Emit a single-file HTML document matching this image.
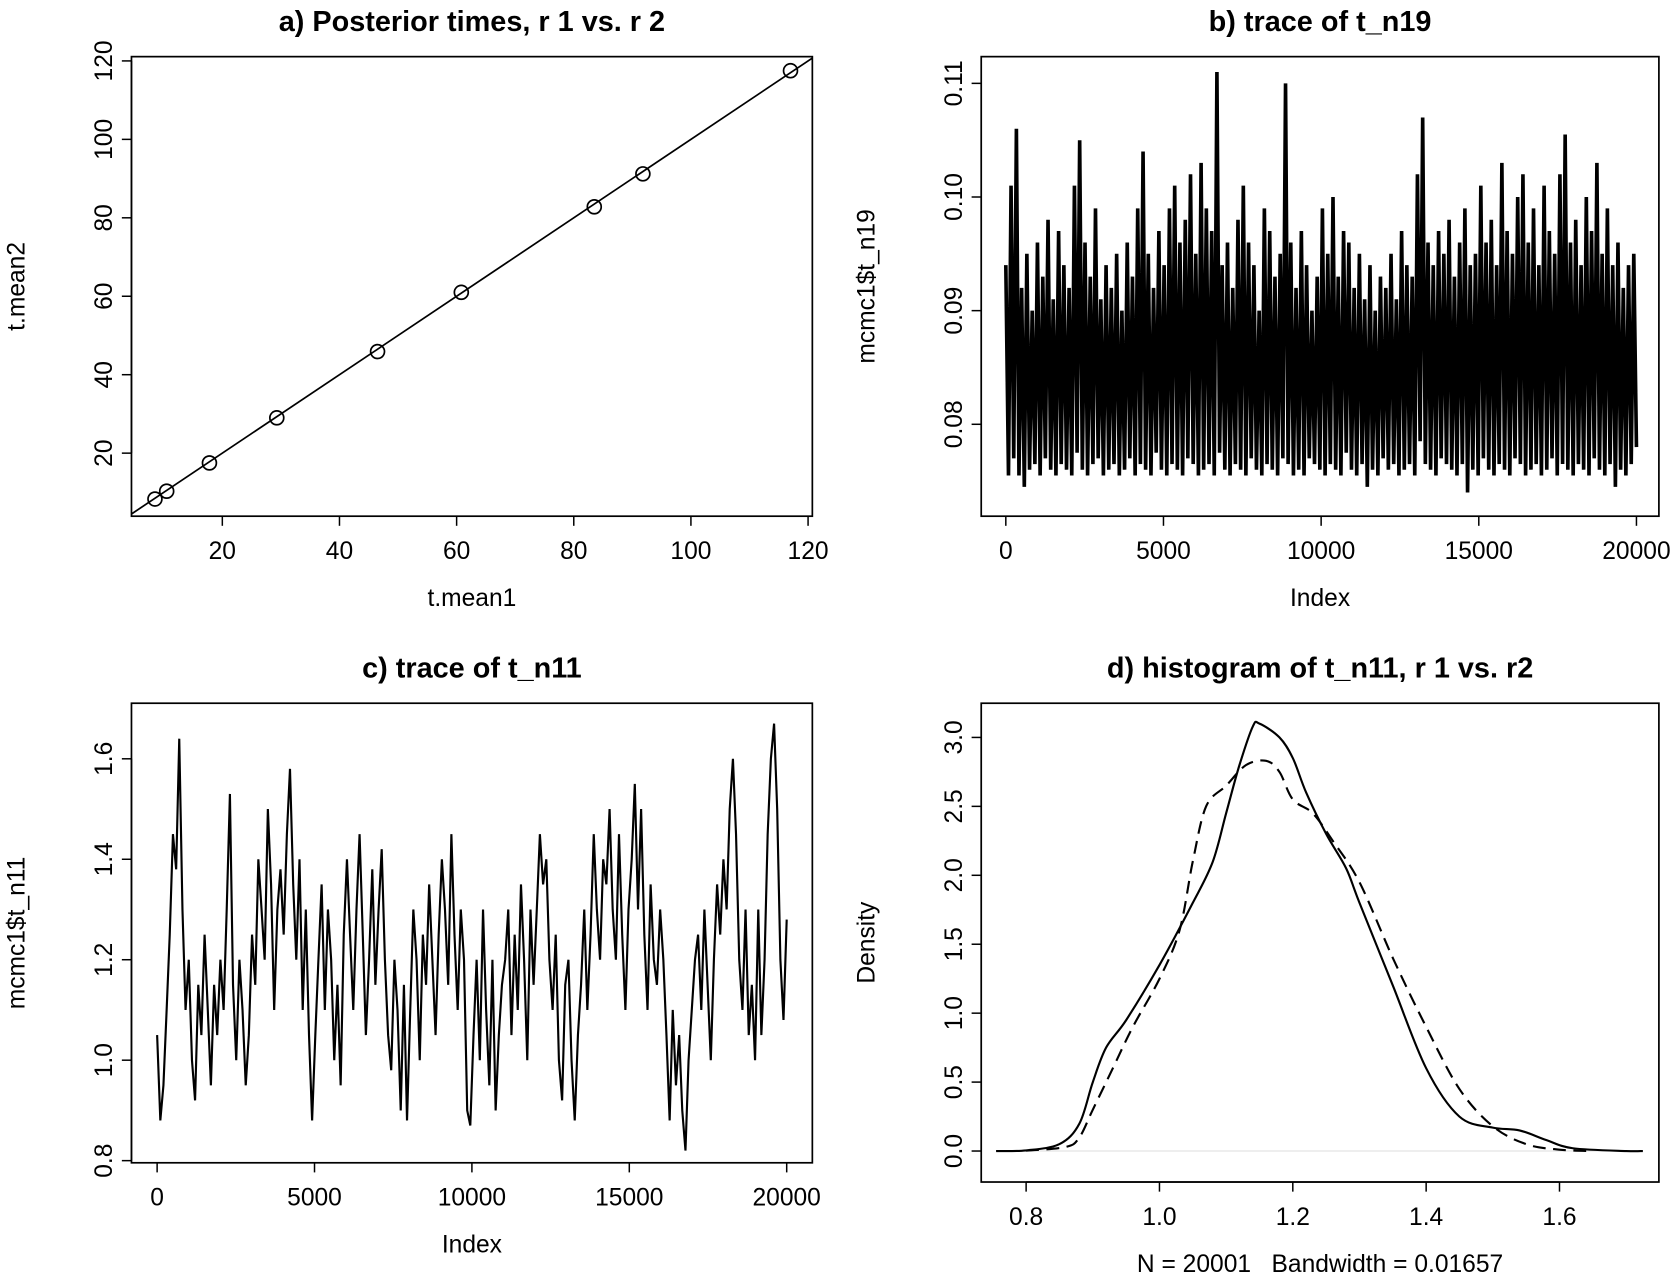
<!DOCTYPE html>
<html><head><meta charset="utf-8"><style>
html,body{margin:0;padding:0;background:#fff;}
svg{display:block;}
text{font-family:"Liberation Sans",Arial,sans-serif;fill:#000;}
</style></head>
<body>
<svg id="fig" width="1676" height="1275" viewBox="0 0 1568 1193" preserveAspectRatio="none" xmlns="http://www.w3.org/2000/svg"></svg>
<script>
// ---------- data ----------
const aX = [8.5,10.5,17.8,29.3,46.5,60.8,83.5,91.8,117];
const aY = [8.3,10.3,17.5,29,45.9,61,82.8,91.2,117.5];
const aTicks = [20,40,60,80,100,120];

const bHighs = [0.094,0.101,0.106,0.092,0.095,0.090,0.096,0.093,0.098,0.091,
0.097,0.094,0.092,0.101,0.105,0.096,0.093,0.099,0.091,0.094,
0.092,0.095,0.090,0.096,0.093,0.099,0.104,0.095,0.092,0.097,
0.094,0.099,0.101,0.096,0.098,0.102,0.095,0.103,0.099,0.097,
0.111,0.094,0.096,0.092,0.098,0.101,0.096,0.094,0.090,0.099,
0.097,0.093,0.095,0.110,0.096,0.092,0.097,0.094,0.090,0.093,
0.099,0.095,0.100,0.093,0.097,0.096,0.092,0.095,0.091,0.094,
0.090,0.093,0.092,0.095,0.091,0.097,0.094,0.093,0.102,0.107,
0.096,0.094,0.097,0.095,0.098,0.093,0.096,0.099,0.094,0.095,
0.101,0.096,0.098,0.094,0.103,0.097,0.095,0.100,0.102,0.096,
0.099,0.094,0.101,0.097,0.095,0.102,0.1055,0.096,0.098,0.094,
0.100,0.097,0.103,0.095,0.099,0.094,0.096,0.092,0.094,0.095];
const bLows = [0.0755,0.077,0.0755,0.0745,0.076,0.0765,0.0755,0.077,0.076,0.0755,
0.0765,0.076,0.0755,0.0775,0.076,0.0755,0.0765,0.077,0.0755,0.076,
0.0765,0.0755,0.076,0.077,0.0755,0.0765,0.076,0.0755,0.0775,0.076,
0.0755,0.0765,0.076,0.0755,0.077,0.0765,0.0755,0.076,0.0765,0.0755,
0.0775,0.076,0.0755,0.0765,0.076,0.0755,0.077,0.076,0.0755,0.0765,
0.076,0.0755,0.077,0.0765,0.0755,0.076,0.0755,0.077,0.0765,0.076,
0.0755,0.0765,0.076,0.0755,0.0775,0.076,0.0755,0.0765,0.0745,0.076,
0.0755,0.077,0.076,0.0765,0.0755,0.076,0.0765,0.0755,0.0785,0.0765,
0.076,0.0755,0.077,0.0765,0.076,0.0755,0.0765,0.074,0.076,0.0755,
0.077,0.076,0.0755,0.0765,0.076,0.0755,0.077,0.0765,0.0755,0.076,
0.0765,0.0755,0.076,0.077,0.0755,0.0765,0.076,0.0755,0.0765,0.076,
0.0755,0.077,0.076,0.0755,0.0765,0.0745,0.076,0.0755,0.0765,0.078];
const bXTicks = [0,5000,10000,15000,20000];
const bYTicks = [0.08,0.09,0.10,0.11];

const cVals = [1.05,0.88,0.95,1.1,1.25,1.45,1.38,1.64,1.3,1.1,
1.2,1.0,0.92,1.15,1.05,1.25,1.1,0.95,1.15,1.05,
1.2,1.1,1.3,1.53,1.15,1.0,1.2,1.1,0.95,1.05,
1.25,1.15,1.4,1.3,1.2,1.5,1.35,1.1,1.3,1.38,
1.25,1.45,1.58,1.35,1.2,1.4,1.1,1.3,1.05,0.88,
1.05,1.2,1.35,1.1,1.3,1.2,1.0,1.15,0.95,1.25,
1.4,1.25,1.1,1.3,1.45,1.25,1.05,1.2,1.38,1.15,
1.3,1.42,1.2,1.05,0.98,1.2,1.1,0.9,1.15,0.88,
1.1,1.3,1.2,1.0,1.25,1.15,1.35,1.2,1.05,1.25,
1.4,1.3,1.15,1.45,1.25,1.1,1.3,1.2,0.9,0.87,
1.05,1.2,1.0,1.3,1.1,0.95,1.2,0.9,1.05,1.15,
1.2,1.3,1.05,1.25,1.1,1.35,1.2,1.0,1.3,1.15,
1.3,1.45,1.35,1.4,1.2,1.1,1.25,1.0,0.92,1.15,
1.2,1.0,0.88,1.05,1.15,1.3,1.1,1.25,1.45,1.3,
1.2,1.4,1.35,1.5,1.3,1.2,1.45,1.25,1.1,1.3,
1.4,1.55,1.3,1.5,1.25,1.1,1.35,1.2,1.15,1.3,
1.2,1.05,0.88,1.1,0.95,1.05,0.9,0.82,1.0,1.1,
1.2,1.25,1.1,1.3,1.15,1.0,1.2,1.35,1.25,1.4,
1.3,1.5,1.6,1.45,1.2,1.1,1.3,1.05,1.15,1.0,
1.3,1.05,1.2,1.45,1.6,1.67,1.5,1.2,1.08,1.28];
const cXTicks = [0,5000,10000,15000,20000];
const cYTicks = [0.8,1.0,1.2,1.4,1.6];

const dSolidX = [0.755,0.8,0.85,0.88,0.9,0.92,0.95,1.0,1.05,1.08,1.1,1.12,1.14,1.15,1.18,1.2,1.22,1.25,1.28,1.3,1.35,1.4,1.45,1.5,1.54,1.58,1.62,1.7,1.725];
const dSolidY = [0,0.005,0.05,0.2,0.5,0.75,0.95,1.35,1.8,2.1,2.45,2.8,3.08,3.1,3.0,2.85,2.6,2.3,2.05,1.8,1.2,0.6,0.25,0.17,0.15,0.08,0.02,0.0,0];
const dDashX = [0.8,0.86,0.88,0.9,0.93,0.96,1.0,1.03,1.05,1.07,1.1,1.13,1.16,1.18,1.2,1.23,1.26,1.3,1.35,1.4,1.45,1.5,1.55,1.6,1.65];
const dDashY = [0.002,0.03,0.1,0.3,0.6,0.9,1.25,1.6,2.1,2.5,2.65,2.8,2.83,2.75,2.55,2.45,2.25,1.95,1.4,0.9,0.45,0.18,0.05,0.01,0];
const dXTicks = [0.8,1.0,1.2,1.4,1.6];
const dYTicks = [0,0.5,1.0,1.5,2.0,2.5,3.0];
const dYLabels = ["0.0","0.5","1.0","1.5","2.0","2.5","3.0"];

// ---------- helpers ----------
const NS = "http://www.w3.org/2000/svg";
const svg = document.getElementById('fig');
function el(tag, attrs, parent){const e=document.createElementNS(NS,tag);for(const k in attrs)e.setAttribute(k,attrs[k]);(parent||svg).appendChild(e);return e;}
function lin(d0,d1,r0,r1){return v=>r0+(v-d0)*(r1-r0)/(d1-d0);}
function smoothPath(P){
  let d='M'+P[0][0].toFixed(1)+','+P[0][1].toFixed(1);
  for(let i=0;i<P.length-1;i++){
    const p0=P[Math.max(0,i-1)],p1=P[i],p2=P[i+1],p3=P[Math.min(P.length-1,i+2)];
    const c1=[p1[0]+(p2[0]-p0[0])/6,p1[1]+(p2[1]-p0[1])/6];
    const c2=[p2[0]-(p3[0]-p1[0])/6,p2[1]-(p3[1]-p1[1])/6];
    d+=` C${c1[0].toFixed(1)},${c1[1].toFixed(1)} ${c2[0].toFixed(1)},${c2[1].toFixed(1)} ${p2[0].toFixed(1)},${p2[1].toFixed(1)}`;
  }
  return d;
}

function panel(o){
  const g = el('g',{});
  
  
  const box = el('rect',{x:o.L,y:o.T,width:o.R-o.L,height:o.B-o.T,fill:'none',stroke:'#000','stroke-width':1.6},g);
  
  
  const t = el('text',{x:(o.L+o.R)/2,y:o.T-24,'text-anchor':'middle','font-size':27,'font-weight':'bold'},g);
  t.textContent = o.title;
  
  
  const xa = el('g',{},g);
  
  
  const xs=o.xticks.map(o.sx);
  el('line',{x1:xs[0],x2:xs[xs.length-1],y1:o.B,y2:o.B,stroke:'#000','stroke-width':1.4},xa);
  o.xticks.forEach((v,i)=>{
    el('line',{x1:xs[i],x2:xs[i],y1:o.B,y2:o.B+9,stroke:'#000','stroke-width':1.4},xa);
    const tl=el('text',{x:xs[i],y:o.B+40,'text-anchor':'middle','font-size':23},xa);
    tl.textContent = o.xlabels?o.xlabels[i]:String(v);
    
    
  });
  const xt=el('text',{x:(o.L+o.R)/2,y:o.B+84,'text-anchor':'middle','font-size':23},g);
  xt.setAttribute('xml:space','preserve');
  xt.style.whiteSpace='pre';
  xt.textContent=o.xtitle;
  
  
  const ya = el('g',{},g);
  
  
  const ys=o.yticks.map(o.sy);
  el('line',{x1:o.L,x2:o.L,y1:ys[0],y2:ys[ys.length-1],stroke:'#000','stroke-width':1.4},ya);
  o.yticks.forEach((v,i)=>{
    el('line',{x1:o.L,x2:o.L-9,y1:ys[i],y2:ys[i],stroke:'#000','stroke-width':1.4},ya);
    const tx=o.L-18;
    const tl=el('text',{x:tx,y:ys[i],'text-anchor':'middle','font-size':23,transform:`rotate(-90 ${tx} ${ys[i]})`},ya);
    tl.textContent = o.ylabels?o.ylabels[i]:String(v);
    
    
  });
  const yx=o.L-100, yy=(o.T+o.B)/2;
  const yt=el('text',{x:yx,y:yy,'text-anchor':'middle','font-size':23,transform:`rotate(-90 ${yx} ${yy})`},g);
  yt.textContent=o.ytitle;
  
  
  return g;
}

// ---------- panel a ----------
{
  const L=123,R=760,T=53,B=483;
  const sx=lin(20,120,208,756), sy=lin(20,120,424,57);
  const g=panel({name:'panel-a',L,R,T,B,sx,sy,xticks:aTicks,yticks:aTicks,title:'a) Posterior times, r 1 vs. r 2',xtitle:'t.mean1',ytitle:'t.mean2'});
  const clip=el('clipPath',{id:'ca'});el('rect',{x:L,y:T,width:R-L,height:B-T},clip);
  const x0=lin(208,756,20,120)(L), x1=lin(208,756,20,120)(R);
  const ln=el('line',{x1:sx(x0),y1:sy(x0),x2:sx(x1),y2:sy(x1),stroke:'#000','stroke-width':1.6,'clip-path':'url(#ca)'},g);
  
  
  aX.forEach((v,i)=>{
    const c=el('circle',{cx:sx(v),cy:sy(aY[i]),r:6.5,fill:'none',stroke:'#000','stroke-width':1.6},g);
    
    
  });
}
// ---------- panel b ----------
{
  const L=918,R=1552,T=53,B=483;
  const sx=lin(0,20000,941,1531), sy=lin(0.08,0.11,397,78);
  const g=panel({name:'panel-b',L,R,T,B,sx,sy,xticks:bXTicks,yticks:bYTicks,ylabels:['0.08','0.09','0.10','0.11'],title:'b) trace of t_n19',xtitle:'Index',ytitle:'mcmc1$t_n19'});
  const vals=[];bHighs.forEach((h,i)=>{vals.push(h);vals.push(bLows[i]);});
  const n=vals.length;
  const pts=vals.map((v,i)=>sx(i*20000/(n-1)).toFixed(1)+','+sy(v).toFixed(1)).join(' ');
  const p=el('polyline',{points:pts,fill:'none',stroke:'#000','stroke-width':3.4,'stroke-linejoin':'miter','stroke-miterlimit':1},g);
  
  
}
// ---------- panel c ----------
{
  const L=123,R=760,T=658,B=1088;
  const sx=lin(0,20000,147,736), sy=lin(0.8,1.6,1086,710);
  const g=panel({name:'panel-c',L,R,T,B,sx,sy,xticks:cXTicks,yticks:cYTicks,ylabels:['0.8','1.0','1.2','1.4','1.6'],title:'c) trace of t_n11',xtitle:'Index',ytitle:'mcmc1$t_n11'});
  const n=cVals.length;
  const pts=cVals.map((v,i)=>sx(i*20000/(n-1)).toFixed(1)+','+sy(v).toFixed(1)).join(' ');
  const p=el('polyline',{points:pts,fill:'none',stroke:'#000','stroke-width':2},g);
  
  
}
// ---------- panel d ----------
{
  const L=918,R=1552,T=658,B=1106;
  const sx=lin(0.8,1.6,960,1459), sy=lin(0,3,1077,690);
  const g=panel({name:'panel-d',L,R,T,B,sx,sy,xticks:dXTicks,yticks:dYTicks,xlabels:['0.8','1.0','1.2','1.4','1.6'],ylabels:dYLabels,title:'d) histogram of t_n11, r 1 vs. r2',xtitle:'N = 20001   Bandwidth = 0.01657',ytitle:'Density'});
  const z=el('line',{x1:sx(0.755),x2:sx(1.725),y1:sy(0),y2:sy(0),stroke:'#ddd','stroke-width':1},g);
  
  
  const p1=el('path',{d:smoothPath(dSolidX.map((v,i)=>[sx(v),sy(dSolidY[i])])),fill:'none',stroke:'#000','stroke-width':2},g);
  
  
  const p2=el('path',{d:smoothPath(dDashX.map((v,i)=>[sx(v),sy(dDashY[i])])),fill:'none',stroke:'#000','stroke-width':2,'stroke-dasharray':'12,7'},g);
  
  
}
</script>
</body></html>
